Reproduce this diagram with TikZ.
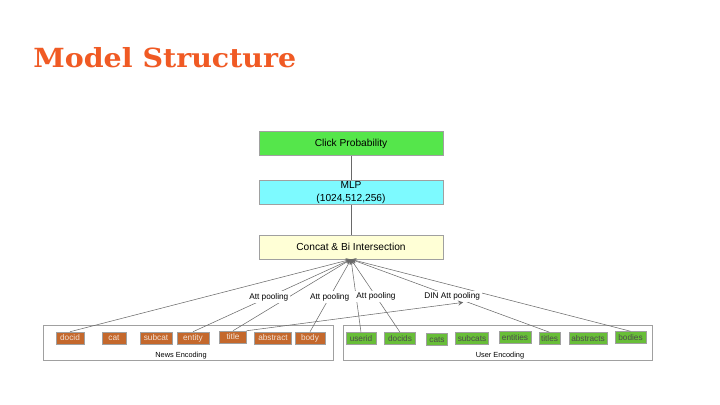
\documentclass[tikz,border=0pt]{standalone}
\usepackage{fontspec}
\setmainfont{Liberation Sans}
\newfontfamily\headfont{DejaVu Serif}

\definecolor{headorange}{RGB}{240,90,36}
\definecolor{clickgreen}{RGB}{85,230,75}
\definecolor{mlpcyan}{RGB}{125,250,255}
\definecolor{concatyellow}{RGB}{255,255,214}
\definecolor{newsbrown}{RGB}{196,104,44}
\definecolor{usergreen}{RGB}{104,190,56}
\definecolor{edgegray}{RGB}{105,105,105}
\definecolor{framegray}{RGB}{160,160,160}

\tikzset{
  layerbox/.style={draw=framegray, line width=0.4pt, minimum width=3.68cm, minimum height=0.48cm,
    inner sep=0pt, align=center, font=\fontsize{5.8}{7}\selectfont},
  featbox/.style={draw=framegray, line width=0.3pt, minimum height=0.24cm, inner sep=0pt,
    font=\fontsize{4.7}{5}\selectfont},
  newsfeat/.style={featbox, fill=newsbrown, text=white!80!newsbrown},
  userfeat/.style={featbox, fill=usergreen, text=black!70},
  encframe/.style={draw=framegray, line width=0.4pt, minimum height=0.7cm, inner sep=0pt},
  enclabel/.style={inner sep=0pt, font=\fontsize{4.2}{5}\selectfont},
  pool/.style={fill=white, inner sep=1pt, font=\fontsize{4.7}{5}\selectfont},
  link/.style={draw=edgegray, line width=0.3pt}
}

\begin{document}
\begin{tikzpicture}[x=0.02cm,y=-0.02cm,>=stealth]
\useasboundingbox[fill=white] (0,0) rectangle (720,405);

\node[anchor=base west, inner sep=0pt, text=headorange, font=\headfont\bfseries\fontsize{15}{18}\selectfont] (head) at (33,68) {\scalebox{1.08}[1]{Model Structure}};

% top of the model
\node[layerbox, fill=clickgreen] (click) at (351,143.5) {Click Probability};
\node[layerbox, fill=mlpcyan] (mlp) at (351,192.5) {MLP\\(1024,512,256)};
\node[layerbox, fill=concatyellow] (cc) at (351,247) {Concat \& Bi Intersection};
\draw[link] (click) -- (mlp);
\draw[link] (mlp) -- (cc);

% encoders
\node[encframe, minimum width=5.8cm] (newsenc) at (188,342.5) {};
\node[encframe, minimum width=6.18cm] (userenc) at (497.5,342.5) {};
\node[enclabel] (newslab) at (181,356) {News Encoding};
\node[enclabel] (userlab) at (500,356) {User Encoding};

\node[newsfeat, minimum width=0.56cm] (docid) at (70,338) {docid};
\node[newsfeat, minimum width=0.48cm] (cat) at (114,338) {cat};
\node[newsfeat, minimum width=0.64cm] (subcat) at (156,338) {subcat};
\node[newsfeat, minimum width=0.64cm] (entity) at (193,338) {entity};
\node[newsfeat, minimum width=0.54cm] (title) at (233,337) {title};
\node[newsfeat, minimum width=0.74cm] (abstract) at (273,338) {abstract};
\node[newsfeat, minimum width=0.60cm] (body) at (310,338) {body};

\node[userfeat, minimum width=0.60cm] (userid) at (361,338.5) {userid};
\node[userfeat, minimum width=0.62cm] (docids) at (400,338.5) {docids};
\node[userfeat, minimum width=0.42cm] (cats) at (437,339.5) {cats};
\node[userfeat, minimum width=0.66cm] (subcats) at (472,338.5) {subcats};
\node[userfeat, minimum width=0.64cm] (entities) at (515,337.5) {entities};
\node[userfeat, minimum width=0.42cm] (titles) at (549.5,338.5) {titles};
\node[userfeat, minimum width=0.76cm] (abstracts) at (588,338.5) {abstracts};
\node[userfeat, minimum width=0.62cm] (bodies) at (630.5,337.5) {bodies};

% links into the concat layer
\draw[link,->] (docid.north) -- (cc.south);
\draw[link,->] (title.north) -- (cc.south);
\draw[link,->] (userid.north) -- (cc.south);
\draw[link,->] (bodies.north) -- (cc.south);
\draw[link,->] (entity.north) -- node[pool, pos=0.48] (attent) {Att pooling} (cc.south);
\draw[link,->] (body.north) -- node[pool, pos=0.48] (attbody) {Att pooling} (cc.south);
\draw[link,->] (docids.north) -- node[pool, pos=0.49] (attdocs) {Att pooling} (cc.south);
\draw[link,->] (titles.north) -- node[pool, pos=0.49] (din) {DIN Att pooling} (cc.south);
\draw[link,->] (title.north east) -- ([xshift=0.22cm]din.south);
\end{tikzpicture}
\end{document}
